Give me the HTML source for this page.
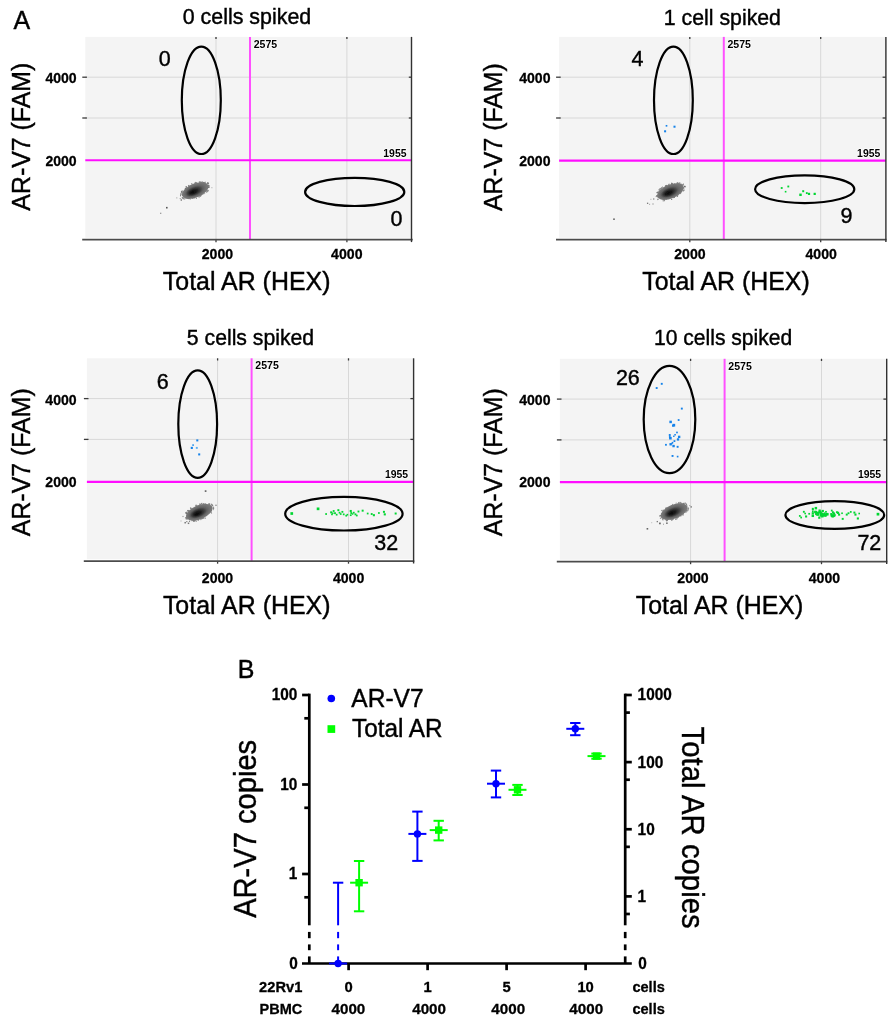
<!DOCTYPE html>
<html lang="en"><head><meta charset="utf-8"><title>ddPCR AR-V7 / Total AR figure</title>
<style>html,body{margin:0;padding:0;background:#fff}svg{display:block}</style></head><body>
<svg width="895" height="1024" viewBox="0 0 895 1024" font-family="'Liberation Sans', Arial, Helvetica, sans-serif" fill="#000">
<defs><radialGradient id="cg" cx="0.5" cy="0.5" r="0.5" fx="0.39" fy="0.55"><stop offset="0" stop-color="#090909"/><stop offset="0.25" stop-color="#1a1a1a"/><stop offset="0.48" stop-color="#3f3f3f"/><stop offset="0.66" stop-color="#626262"/><stop offset="0.82" stop-color="#707070"/><stop offset="1" stop-color="#7b7b7b"/></radialGradient></defs>
<rect width="895" height="1024" fill="#fff"/>
<filter id="soft" x="0" y="0" width="895" height="1024" filterUnits="userSpaceOnUse"><feGaussianBlur stdDeviation="0.4"/></filter>
<g filter="url(#soft)">
<rect width="895" height="1024" fill="#fff"/>
<text font-size="25" transform="translate(13.6 29) scale(1 1.03)" stroke="#000" stroke-width="0.4">A</text>
<text font-size="25" transform="translate(237.7 677.7) scale(1 1.03)" stroke="#000" stroke-width="0.4">B</text>
<rect x="85.3" y="36.9" width="326.2" height="200.9" fill="#f4f4f4"/>
<line x1="216" y1="36.9" x2="216" y2="239.7" stroke="#d8d8d8" stroke-width="1"/>
<line x1="346.9" y1="36.9" x2="346.9" y2="239.7" stroke="#d8d8d8" stroke-width="1"/>
<line x1="85.3" y1="77.2" x2="412" y2="77.2" stroke="#d8d8d8" stroke-width="1"/>
<line x1="85.3" y1="118" x2="412" y2="118" stroke="#d8d8d8" stroke-width="1"/>
<line x1="216" y1="36.9" x2="216" y2="39.1" stroke="#3a3a3a" stroke-width="1.3"/>
<line x1="216" y1="239.7" x2="216" y2="242.3" stroke="#3a3a3a" stroke-width="1.3"/>
<line x1="346.9" y1="36.9" x2="346.9" y2="39.1" stroke="#3a3a3a" stroke-width="1.3"/>
<line x1="346.9" y1="239.7" x2="346.9" y2="242.3" stroke="#3a3a3a" stroke-width="1.3"/>
<line x1="82.3" y1="77.2" x2="86.9" y2="77.2" stroke="#3a3a3a" stroke-width="1.3"/>
<line x1="408.8" y1="77.2" x2="412" y2="77.2" stroke="#3a3a3a" stroke-width="1.3"/>
<line x1="82.3" y1="118" x2="86.9" y2="118" stroke="#3a3a3a" stroke-width="1.3"/>
<line x1="408.8" y1="118" x2="412" y2="118" stroke="#3a3a3a" stroke-width="1.3"/>
<line x1="250" y1="36.9" x2="250" y2="239.7" stroke="#ff50ff" stroke-width="2"/>
<line x1="85.3" y1="160.25" x2="412" y2="160.25" stroke="#ff10ff" stroke-width="2.2"/>
<line x1="82.2" y1="239.7" x2="412.7" y2="239.7" stroke="#4c4c4c" stroke-width="1.7"/>
<line x1="411.5" y1="36.9" x2="411.5" y2="242.1" stroke="#303030" stroke-width="1.4"/>
<text font-size="10.5" font-weight="bold" textLength="23.5" lengthAdjust="spacingAndGlyphs" transform="translate(253.7 47.7) scale(1 1.03)" stroke="#fff" stroke-opacity=".8" stroke-width="1.6" paint-order="stroke" stroke-linejoin="round">2575</text>
<text font-size="10.5" font-weight="bold" text-anchor="end" textLength="23.2" lengthAdjust="spacingAndGlyphs" transform="translate(406.5 156.5) scale(1 1.03)" stroke="#fff" stroke-opacity=".8" stroke-width="1.6" paint-order="stroke" stroke-linejoin="round">1955</text>
<text font-size="21" text-anchor="middle" textLength="128.5" lengthAdjust="spacingAndGlyphs" transform="translate(247 23.8) scale(1 1.03)" stroke="#000" stroke-width="0.4">0 cells spiked</text>
<text font-size="24.7" text-anchor="middle" textLength="147.9" lengthAdjust="spacingAndGlyphs" transform="translate(30.3 136.7) rotate(-90) scale(1 1.03)" stroke="#000" stroke-width="0.4">AR-V7 (FAM)</text>
<text font-size="13.8" font-weight="bold" text-anchor="end" textLength="31.3" lengthAdjust="spacingAndGlyphs" transform="translate(76.7 82.7) scale(1 1.03)" stroke="#000" stroke-width="0.28">4000</text>
<text font-size="13.8" font-weight="bold" text-anchor="end" textLength="31.3" lengthAdjust="spacingAndGlyphs" transform="translate(76.7 165.5) scale(1 1.03)" stroke="#000" stroke-width="0.28">2000</text>
<text font-size="13.8" font-weight="bold" text-anchor="middle" textLength="31.4" lengthAdjust="spacingAndGlyphs" transform="translate(217.4 259) scale(1 1.03)" stroke="#000" stroke-width="0.28">2000</text>
<text font-size="13.8" font-weight="bold" text-anchor="middle" textLength="31.4" lengthAdjust="spacingAndGlyphs" transform="translate(346.8 259) scale(1 1.03)" stroke="#000" stroke-width="0.28">4000</text>
<text font-size="24.7" text-anchor="middle" textLength="167.6" lengthAdjust="spacingAndGlyphs" transform="translate(246.65 289.6) scale(1 1.03)" stroke="#000" stroke-width="0.4">Total AR (HEX)</text>
<ellipse cx="201.3" cy="100.3" rx="19.5" ry="53.7" fill="none" stroke="#000" stroke-width="2.2"/>
<ellipse cx="354.7" cy="191.9" rx="49.6" ry="14.1" fill="none" stroke="#000" stroke-width="2.2"/>
<text font-size="21.5" transform="translate(158.8 66.1) scale(1 1.03)" stroke="#000" stroke-width="0.4">0</text>
<text font-size="21.5" transform="translate(390.6 225.8) scale(1 1.03)" stroke="#000" stroke-width="0.4">0</text>
<g transform="translate(195.2 190.6) rotate(-22)">
<rect x="9.55" y="5.13" width="1.1" height="1.1" fill="#7a7a7a"/>
<rect x="10.38" y="4.39" width="1.3" height="1.3" fill="#909090"/>
<rect x="-10.08" y="4.1" width="0.9" height="0.9" fill="#909090"/>
<rect x="10.16" y="-4.94" width="1.3" height="1.3" fill="#7a7a7a"/>
<rect x="-14.61" y="1.84" width="1.3" height="1.3" fill="#858585"/>
<rect x="14.03" y="-3.04" width="0.9" height="0.9" fill="#7a7a7a"/>
<rect x="13.44" y="0.49" width="1.3" height="1.3" fill="#909090"/>
<rect x="2.25" y="6.15" width="1.3" height="1.3" fill="#7a7a7a"/>
<rect x="1.82" y="6.21" width="1.3" height="1.3" fill="#909090"/>
<rect x="0.86" y="6.07" width="1.1" height="1.1" fill="#858585"/>
<rect x="14.11" y="-2.93" width="1.3" height="1.3" fill="#909090"/>
<rect x="10.95" y="-3.48" width="0.9" height="0.9" fill="#6f6f6f"/>
<rect x="-1.31" y="-8.32" width="1.3" height="1.3" fill="#909090"/>
<rect x="6.52" y="-6.97" width="1.1" height="1.1" fill="#6f6f6f"/>
<rect x="-13.71" y="-4.66" width="1.3" height="1.3" fill="#909090"/>
<rect x="7.96" y="-6.16" width="1.1" height="1.1" fill="#909090"/>
<rect x="-7.46" y="-6.35" width="0.9" height="0.9" fill="#6f6f6f"/>
<rect x="-13.79" y="2" width="1.3" height="1.3" fill="#858585"/>
<rect x="6.81" y="-6.35" width="1.1" height="1.1" fill="#7a7a7a"/>
<rect x="13.57" y="1.34" width="1.3" height="1.3" fill="#909090"/>
<rect x="6.34" y="5.76" width="0.9" height="0.9" fill="#7a7a7a"/>
<rect x="-15.33" y="-2.43" width="1.1" height="1.1" fill="#858585"/>
<rect x="-16.03" y="-1.22" width="1.1" height="1.1" fill="#6f6f6f"/>
<rect x="11.79" y="-4.48" width="1.1" height="1.1" fill="#7a7a7a"/>
<rect x="2.53" y="-8.05" width="1.3" height="1.3" fill="#858585"/>
<rect x="1.72" y="-7.07" width="1.1" height="1.1" fill="#7a7a7a"/>
<rect x="9.18" y="-5.88" width="1.3" height="1.3" fill="#858585"/>
<rect x="-13.47" y="3.36" width="1.1" height="1.1" fill="#909090"/>
<rect x="13.71" y="-0.48" width="1.1" height="1.1" fill="#6f6f6f"/>
<rect x="-12.86" y="-5.08" width="1.3" height="1.3" fill="#858585"/>
<rect x="-13.6" y="-4.31" width="0.9" height="0.9" fill="#6f6f6f"/>
<rect x="7.55" y="-6.6" width="0.9" height="0.9" fill="#7a7a7a"/>
<rect x="-14.73" y="1.72" width="0.9" height="0.9" fill="#6f6f6f"/>
<rect x="-2.31" y="6.93" width="1.1" height="1.1" fill="#858585"/>
<rect x="-3.93" y="5.7" width="1.3" height="1.3" fill="#6f6f6f"/>
<rect x="13.41" y="-2.72" width="1.1" height="1.1" fill="#6f6f6f"/>
<rect x="-4.59" y="-7.2" width="0.9" height="0.9" fill="#7a7a7a"/>
<rect x="-5.74" y="5.77" width="1.1" height="1.1" fill="#858585"/>
<rect x="11.27" y="4.2" width="1.3" height="1.3" fill="#858585"/>
<rect x="-14.64" y="2.8" width="0.9" height="0.9" fill="#858585"/>
<rect x="-10.7" y="3.27" width="1.1" height="1.1" fill="#858585"/>
<rect x="-4.78" y="-7.7" width="1.3" height="1.3" fill="#858585"/>
<rect x="3.55" y="-7.43" width="1.3" height="1.3" fill="#858585"/>
<rect x="-8.88" y="-6.2" width="1.3" height="1.3" fill="#6f6f6f"/>
<rect x="-9.14" y="-5.13" width="0.9" height="0.9" fill="#6f6f6f"/>
<rect x="14.54" y="-1.98" width="0.9" height="0.9" fill="#6f6f6f"/>
<rect x="7.89" y="-5.91" width="1.3" height="1.3" fill="#6f6f6f"/>
<rect x="7.37" y="5.56" width="0.9" height="0.9" fill="#858585"/>
<rect x="-14.78" y="-3.48" width="1.3" height="1.3" fill="#858585"/>
<rect x="-15.24" y="1.29" width="1.1" height="1.1" fill="#7a7a7a"/>
<rect x="3.31" y="5.49" width="1.3" height="1.3" fill="#909090"/>
<rect x="3.89" y="5.52" width="1.1" height="1.1" fill="#909090"/>
<rect x="-13.2" y="-0.71" width="1.1" height="1.1" fill="#909090"/>
<rect x="12.48" y="0.1" width="1.3" height="1.3" fill="#6f6f6f"/>
<rect x="2.23" y="-7.23" width="1.1" height="1.1" fill="#858585"/>
<rect x="-7.59" y="-7.4" width="1.3" height="1.3" fill="#6f6f6f"/>
<rect x="-15.07" y="-2.05" width="0.9" height="0.9" fill="#858585"/>
<rect x="-2.42" y="-6.8" width="0.9" height="0.9" fill="#858585"/>
<rect x="10.59" y="-4.17" width="1.3" height="1.3" fill="#6f6f6f"/>
<rect x="-13.93" y="-0.8" width="1.1" height="1.1" fill="#6f6f6f"/>
<rect x="9.6" y="3.92" width="0.9" height="0.9" fill="#909090"/>
<rect x="-13.57" y="-4.05" width="0.9" height="0.9" fill="#6f6f6f"/>
<rect x="-11.92" y="3.36" width="0.9" height="0.9" fill="#858585"/>
<rect x="-8.29" y="5.65" width="0.9" height="0.9" fill="#909090"/>
<rect x="-12.55" y="-3.41" width="1.1" height="1.1" fill="#7a7a7a"/>
<rect x="-9.48" y="4.52" width="1.1" height="1.1" fill="#7a7a7a"/>
<rect x="9.76" y="-4.46" width="1.1" height="1.1" fill="#7a7a7a"/>
<rect x="14.07" y="0.02" width="1.1" height="1.1" fill="#7a7a7a"/>
<rect x="11.04" y="4.62" width="0.9" height="0.9" fill="#7a7a7a"/>
<rect x="0.57" y="7.36" width="0.9" height="0.9" fill="#909090"/>
<ellipse cx="0" cy="0" rx="14" ry="7" fill="url(#cg)"/>
</g>
<rect x="166" y="206.9" width="1.6" height="1.6" fill="#555"/>
<rect x="160.1" y="212.7" width="1.2" height="1.2" fill="#8a8a8a"/>
<rect x="180.6" y="199.3" width="1.4" height="1.4" fill="#777"/>
<rect x="179.7" y="198.1" width="1" height="1" fill="#8a8a8a"/>
<rect x="176.3" y="197.4" width="1" height="1" fill="#9a9a9a"/>
<rect x="207.9" y="186.8" width="1.2" height="1.2" fill="#777"/>
<rect x="211.4" y="187.2" width="1" height="1" fill="#aaa"/>
<rect x="559.1" y="36.9" width="326.8" height="200.9" fill="#f4f4f4"/>
<line x1="689.8" y1="36.9" x2="689.8" y2="239.7" stroke="#d8d8d8" stroke-width="1"/>
<line x1="820.7" y1="36.9" x2="820.7" y2="239.7" stroke="#d8d8d8" stroke-width="1"/>
<line x1="559.1" y1="77.2" x2="885.8" y2="77.2" stroke="#d8d8d8" stroke-width="1"/>
<line x1="559.1" y1="118" x2="885.8" y2="118" stroke="#d8d8d8" stroke-width="1"/>
<line x1="689.8" y1="36.9" x2="689.8" y2="39.1" stroke="#3a3a3a" stroke-width="1.3"/>
<line x1="689.8" y1="239.7" x2="689.8" y2="242.3" stroke="#3a3a3a" stroke-width="1.3"/>
<line x1="820.7" y1="36.9" x2="820.7" y2="39.1" stroke="#3a3a3a" stroke-width="1.3"/>
<line x1="820.7" y1="239.7" x2="820.7" y2="242.3" stroke="#3a3a3a" stroke-width="1.3"/>
<line x1="556.1" y1="77.2" x2="560.7" y2="77.2" stroke="#3a3a3a" stroke-width="1.3"/>
<line x1="882.6" y1="77.2" x2="885.8" y2="77.2" stroke="#3a3a3a" stroke-width="1.3"/>
<line x1="556.1" y1="118" x2="560.7" y2="118" stroke="#3a3a3a" stroke-width="1.3"/>
<line x1="882.6" y1="118" x2="885.8" y2="118" stroke="#3a3a3a" stroke-width="1.3"/>
<line x1="723.8" y1="36.9" x2="723.8" y2="239.7" stroke="#ff50ff" stroke-width="2"/>
<line x1="559.1" y1="160.6" x2="885.8" y2="160.6" stroke="#ff10ff" stroke-width="2.2"/>
<line x1="556" y1="239.7" x2="886.5" y2="239.7" stroke="#4c4c4c" stroke-width="1.7"/>
<line x1="885.9" y1="36.9" x2="885.9" y2="242.1" stroke="#303030" stroke-width="1.4"/>
<text font-size="10.5" font-weight="bold" textLength="23.5" lengthAdjust="spacingAndGlyphs" transform="translate(727.5 47.7) scale(1 1.03)" stroke="#fff" stroke-opacity=".8" stroke-width="1.6" paint-order="stroke" stroke-linejoin="round">2575</text>
<text font-size="10.5" font-weight="bold" text-anchor="end" textLength="23.2" lengthAdjust="spacingAndGlyphs" transform="translate(880.3 156.5) scale(1 1.03)" stroke="#fff" stroke-opacity=".8" stroke-width="1.6" paint-order="stroke" stroke-linejoin="round">1955</text>
<text font-size="21" text-anchor="middle" textLength="117.1" lengthAdjust="spacingAndGlyphs" transform="translate(722.4 25.4) scale(1 1.03)" stroke="#000" stroke-width="0.4">1 cell spiked</text>
<text font-size="24.7" text-anchor="middle" textLength="147.9" lengthAdjust="spacingAndGlyphs" transform="translate(501.6 137.1) rotate(-90) scale(1 1.03)" stroke="#000" stroke-width="0.4">AR-V7 (FAM)</text>
<text font-size="13.8" font-weight="bold" text-anchor="end" textLength="31.3" lengthAdjust="spacingAndGlyphs" transform="translate(550.5 83.1) scale(1 1.03)" stroke="#000" stroke-width="0.28">4000</text>
<text font-size="13.8" font-weight="bold" text-anchor="end" textLength="31.3" lengthAdjust="spacingAndGlyphs" transform="translate(550.5 165.7) scale(1 1.03)" stroke="#000" stroke-width="0.28">2000</text>
<text font-size="13.8" font-weight="bold" text-anchor="middle" textLength="31.4" lengthAdjust="spacingAndGlyphs" transform="translate(689.9 258.9) scale(1 1.03)" stroke="#000" stroke-width="0.28">2000</text>
<text font-size="13.8" font-weight="bold" text-anchor="middle" textLength="31.4" lengthAdjust="spacingAndGlyphs" transform="translate(821.2 258.9) scale(1 1.03)" stroke="#000" stroke-width="0.28">4000</text>
<text font-size="24.7" text-anchor="middle" textLength="167.6" lengthAdjust="spacingAndGlyphs" transform="translate(726 290) scale(1 1.03)" stroke="#000" stroke-width="0.4">Total AR (HEX)</text>
<ellipse cx="673.4" cy="100.3" rx="19.4" ry="53.7" fill="none" stroke="#000" stroke-width="2.2"/>
<ellipse cx="804.7" cy="189.2" rx="49.6" ry="13.9" fill="none" stroke="#000" stroke-width="2.2"/>
<text font-size="21.5" transform="translate(631.6 66.1) scale(1 1.03)" stroke="#000" stroke-width="0.4">4</text>
<text font-size="21.5" transform="translate(840.4 223.2) scale(1 1.03)" stroke="#000" stroke-width="0.4">9</text>
<g transform="translate(670.4 191.6) rotate(-22)">
<rect x="14.48" y="-2.57" width="0.9" height="0.9" fill="#7a7a7a"/>
<rect x="12.52" y="3.31" width="1.1" height="1.1" fill="#6f6f6f"/>
<rect x="-11.93" y="-5.02" width="1.1" height="1.1" fill="#858585"/>
<rect x="-10.37" y="-6.41" width="1.3" height="1.3" fill="#6f6f6f"/>
<rect x="12.56" y="-3.23" width="0.9" height="0.9" fill="#7a7a7a"/>
<rect x="-10.71" y="5.28" width="1.1" height="1.1" fill="#909090"/>
<rect x="10.61" y="-4.92" width="0.9" height="0.9" fill="#858585"/>
<rect x="1.15" y="6.07" width="0.9" height="0.9" fill="#858585"/>
<rect x="-14.23" y="-0.99" width="1.1" height="1.1" fill="#858585"/>
<rect x="3.65" y="-7.76" width="1.3" height="1.3" fill="#6f6f6f"/>
<rect x="-9.93" y="5.76" width="0.9" height="0.9" fill="#909090"/>
<rect x="12.63" y="-2.58" width="1.3" height="1.3" fill="#909090"/>
<rect x="-14.5" y="-1.99" width="1.3" height="1.3" fill="#909090"/>
<rect x="-15.53" y="-1.28" width="1.1" height="1.1" fill="#909090"/>
<rect x="-9.33" y="5.43" width="1.1" height="1.1" fill="#909090"/>
<rect x="-9.05" y="-7.16" width="1.3" height="1.3" fill="#858585"/>
<rect x="-2.3" y="7.1" width="1.1" height="1.1" fill="#6f6f6f"/>
<rect x="13.7" y="-2.51" width="1.1" height="1.1" fill="#909090"/>
<rect x="-2.34" y="-7.65" width="1.3" height="1.3" fill="#6f6f6f"/>
<rect x="-9.82" y="-5.14" width="1.3" height="1.3" fill="#6f6f6f"/>
<rect x="14.64" y="-0.05" width="0.9" height="0.9" fill="#7a7a7a"/>
<rect x="-12.03" y="-3.52" width="1.3" height="1.3" fill="#858585"/>
<rect x="8.62" y="-5.11" width="1.1" height="1.1" fill="#858585"/>
<rect x="-0.12" y="6.07" width="1.1" height="1.1" fill="#7a7a7a"/>
<rect x="11.42" y="-5.02" width="1.1" height="1.1" fill="#7a7a7a"/>
<rect x="-8.99" y="4.69" width="0.9" height="0.9" fill="#7a7a7a"/>
<rect x="8.95" y="3.59" width="1.3" height="1.3" fill="#7a7a7a"/>
<rect x="11.54" y="-3.81" width="0.9" height="0.9" fill="#858585"/>
<rect x="-1.91" y="-7.62" width="1.1" height="1.1" fill="#7a7a7a"/>
<rect x="-13.18" y="-4.46" width="0.9" height="0.9" fill="#858585"/>
<rect x="11.85" y="-1.7" width="1.1" height="1.1" fill="#7a7a7a"/>
<rect x="-7.26" y="4.77" width="1.3" height="1.3" fill="#909090"/>
<rect x="0.94" y="-7.95" width="1.1" height="1.1" fill="#6f6f6f"/>
<rect x="9.14" y="-6.07" width="0.9" height="0.9" fill="#909090"/>
<rect x="11.8" y="3.63" width="0.9" height="0.9" fill="#7a7a7a"/>
<rect x="-15.13" y="1.81" width="1.3" height="1.3" fill="#858585"/>
<rect x="-12.34" y="-3.96" width="0.9" height="0.9" fill="#6f6f6f"/>
<rect x="8.97" y="-5.49" width="1.3" height="1.3" fill="#6f6f6f"/>
<rect x="13.72" y="-1.99" width="1.3" height="1.3" fill="#858585"/>
<rect x="11.45" y="1.77" width="0.9" height="0.9" fill="#858585"/>
<rect x="11.54" y="3.67" width="0.9" height="0.9" fill="#7a7a7a"/>
<rect x="1.09" y="6.49" width="0.9" height="0.9" fill="#6f6f6f"/>
<rect x="-12.75" y="-4.49" width="1.1" height="1.1" fill="#6f6f6f"/>
<rect x="-5.83" y="-6.62" width="0.9" height="0.9" fill="#7a7a7a"/>
<rect x="12.87" y="0.88" width="1.3" height="1.3" fill="#7a7a7a"/>
<rect x="-2.64" y="-7.03" width="0.9" height="0.9" fill="#7a7a7a"/>
<rect x="5.08" y="5.6" width="0.9" height="0.9" fill="#858585"/>
<rect x="-14.56" y="-1.56" width="1.3" height="1.3" fill="#6f6f6f"/>
<rect x="-8.99" y="-5.8" width="1.3" height="1.3" fill="#858585"/>
<rect x="4.15" y="-7.18" width="1.3" height="1.3" fill="#7a7a7a"/>
<rect x="-13.31" y="-4.61" width="0.9" height="0.9" fill="#858585"/>
<rect x="-7.95" y="-6.67" width="1.3" height="1.3" fill="#7a7a7a"/>
<rect x="12.02" y="-2.14" width="1.1" height="1.1" fill="#6f6f6f"/>
<rect x="-6.11" y="-7.65" width="0.9" height="0.9" fill="#6f6f6f"/>
<rect x="9.22" y="-5.47" width="1.1" height="1.1" fill="#7a7a7a"/>
<rect x="4.23" y="6.55" width="1.1" height="1.1" fill="#7a7a7a"/>
<rect x="13.09" y="2.23" width="0.9" height="0.9" fill="#909090"/>
<rect x="10.59" y="-5.18" width="1.1" height="1.1" fill="#7a7a7a"/>
<rect x="12.94" y="0.57" width="0.9" height="0.9" fill="#7a7a7a"/>
<rect x="-0.14" y="-7.14" width="1.1" height="1.1" fill="#6f6f6f"/>
<rect x="-3.32" y="-6.92" width="1.1" height="1.1" fill="#6f6f6f"/>
<rect x="9.74" y="-4.79" width="0.9" height="0.9" fill="#7a7a7a"/>
<rect x="-10.59" y="-5.01" width="0.9" height="0.9" fill="#909090"/>
<rect x="-4.92" y="-6.38" width="0.9" height="0.9" fill="#909090"/>
<rect x="-2.89" y="-7.52" width="1.1" height="1.1" fill="#6f6f6f"/>
<rect x="8.02" y="4.69" width="1.3" height="1.3" fill="#909090"/>
<rect x="9.3" y="-6.08" width="1.1" height="1.1" fill="#909090"/>
<rect x="6.5" y="-6.24" width="0.9" height="0.9" fill="#858585"/>
<rect x="-14.02" y="-0.18" width="1.3" height="1.3" fill="#909090"/>
<rect x="-7.09" y="-7.41" width="0.9" height="0.9" fill="#7a7a7a"/>
<ellipse cx="0" cy="0" rx="14" ry="7" fill="url(#cg)"/>
</g>
<rect x="613.2" y="218.4" width="1.6" height="1.6" fill="#666"/>
<rect x="646.95" y="202.65" width="1.3" height="1.3" fill="#777"/>
<rect x="649.1" y="203.8" width="1" height="1" fill="#999"/>
<rect x="653.05" y="198.35" width="1.3" height="1.3" fill="#888"/>
<rect x="652.45" y="203.45" width="1.1" height="1.1" fill="#888"/>
<rect x="650.4" y="198.8" width="1" height="1" fill="#aaa"/>
<rect x="684.15" y="185.85" width="1.5" height="1.5" fill="#666"/>
<rect x="665.67" y="124.97" width="1.66" height="1.66" fill="#1382ea"/>
<rect x="673.49" y="125.69" width="2.02" height="2.02" fill="#1382ea"/>
<rect x="664.09" y="130.29" width="2.02" height="2.02" fill="#1382ea"/>
<rect x="780.77" y="187.07" width="1.86" height="1.86" fill="#04d632"/>
<rect x="787.37" y="185.57" width="1.86" height="1.86" fill="#04d632"/>
<rect x="784.79" y="190.89" width="1.62" height="1.62" fill="#04d632"/>
<rect x="799.27" y="193.57" width="2.46" height="2.46" fill="#04d632"/>
<rect x="802.21" y="190.21" width="1.98" height="1.98" fill="#04d632"/>
<rect x="805.87" y="192.17" width="1.86" height="1.86" fill="#04d632"/>
<rect x="807.89" y="192.79" width="2.22" height="2.22" fill="#04d632"/>
<rect x="813.59" y="192.79" width="2.22" height="2.22" fill="#04d632"/>
<rect x="86.9" y="358.3" width="326.7" height="200.9" fill="#f4f4f4"/>
<line x1="217.6" y1="358.3" x2="217.6" y2="561.1" stroke="#d8d8d8" stroke-width="1"/>
<line x1="348.5" y1="358.3" x2="348.5" y2="561.1" stroke="#d8d8d8" stroke-width="1"/>
<line x1="86.9" y1="398.6" x2="413.6" y2="398.6" stroke="#d8d8d8" stroke-width="1"/>
<line x1="86.9" y1="439.4" x2="413.6" y2="439.4" stroke="#d8d8d8" stroke-width="1"/>
<line x1="217.6" y1="358.3" x2="217.6" y2="360.5" stroke="#3a3a3a" stroke-width="1.3"/>
<line x1="217.6" y1="561.1" x2="217.6" y2="563.7" stroke="#3a3a3a" stroke-width="1.3"/>
<line x1="348.5" y1="358.3" x2="348.5" y2="360.5" stroke="#3a3a3a" stroke-width="1.3"/>
<line x1="348.5" y1="561.1" x2="348.5" y2="563.7" stroke="#3a3a3a" stroke-width="1.3"/>
<line x1="83.9" y1="398.6" x2="88.5" y2="398.6" stroke="#3a3a3a" stroke-width="1.3"/>
<line x1="410.4" y1="398.6" x2="413.6" y2="398.6" stroke="#3a3a3a" stroke-width="1.3"/>
<line x1="83.9" y1="439.4" x2="88.5" y2="439.4" stroke="#3a3a3a" stroke-width="1.3"/>
<line x1="410.4" y1="439.4" x2="413.6" y2="439.4" stroke="#3a3a3a" stroke-width="1.3"/>
<line x1="251.6" y1="358.3" x2="251.6" y2="561.1" stroke="#ff50ff" stroke-width="2"/>
<line x1="86.9" y1="481.85" x2="413.6" y2="481.85" stroke="#ff10ff" stroke-width="2.2"/>
<line x1="83.8" y1="561.1" x2="414.3" y2="561.1" stroke="#4c4c4c" stroke-width="1.7"/>
<line x1="413.6" y1="358.3" x2="413.6" y2="563.5" stroke="#303030" stroke-width="1.4"/>
<text font-size="10.5" font-weight="bold" textLength="23.5" lengthAdjust="spacingAndGlyphs" transform="translate(255.3 369.1) scale(1 1.03)" stroke="#fff" stroke-opacity=".8" stroke-width="1.6" paint-order="stroke" stroke-linejoin="round">2575</text>
<text font-size="10.5" font-weight="bold" text-anchor="end" textLength="23.2" lengthAdjust="spacingAndGlyphs" transform="translate(408.1 477.9) scale(1 1.03)" stroke="#fff" stroke-opacity=".8" stroke-width="1.6" paint-order="stroke" stroke-linejoin="round">1955</text>
<text font-size="21" text-anchor="middle" textLength="127.3" lengthAdjust="spacingAndGlyphs" transform="translate(250.5 345.3) scale(1 1.03)" stroke="#000" stroke-width="0.4">5 cells spiked</text>
<text font-size="24.7" text-anchor="middle" textLength="147.9" lengthAdjust="spacingAndGlyphs" transform="translate(30.3 462.25) rotate(-90) scale(1 1.03)" stroke="#000" stroke-width="0.4">AR-V7 (FAM)</text>
<text font-size="13.8" font-weight="bold" text-anchor="end" textLength="31.3" lengthAdjust="spacingAndGlyphs" transform="translate(76.6 404.6) scale(1 1.03)" stroke="#000" stroke-width="0.28">4000</text>
<text font-size="13.8" font-weight="bold" text-anchor="end" textLength="31.3" lengthAdjust="spacingAndGlyphs" transform="translate(76.6 487.1) scale(1 1.03)" stroke="#000" stroke-width="0.28">2000</text>
<text font-size="13.8" font-weight="bold" text-anchor="middle" textLength="31.4" lengthAdjust="spacingAndGlyphs" transform="translate(217.5 582.7) scale(1 1.03)" stroke="#000" stroke-width="0.28">2000</text>
<text font-size="13.8" font-weight="bold" text-anchor="middle" textLength="31.4" lengthAdjust="spacingAndGlyphs" transform="translate(348.6 582.7) scale(1 1.03)" stroke="#000" stroke-width="0.28">4000</text>
<text font-size="24.7" text-anchor="middle" textLength="167.6" lengthAdjust="spacingAndGlyphs" transform="translate(246.7 613.7) scale(1 1.03)" stroke="#000" stroke-width="0.4">Total AR (HEX)</text>
<ellipse cx="197.7" cy="424.1" rx="19.4" ry="53.8" fill="none" stroke="#000" stroke-width="2.2"/>
<ellipse cx="343.9" cy="513.7" rx="58.7" ry="16.8" fill="none" stroke="#000" stroke-width="2.2"/>
<text font-size="21.5" transform="translate(156.7 389.2) scale(1 1.03)" stroke="#000" stroke-width="0.4">6</text>
<text font-size="21.5" transform="translate(374.3 550.4) scale(1 1.03)" stroke="#000" stroke-width="0.4">32</text>
<g transform="translate(199.3 512.2) rotate(-22)">
<rect x="0.43" y="6.47" width="1.3" height="1.3" fill="#6f6f6f"/>
<rect x="-14.75" y="0.62" width="1.1" height="1.1" fill="#7a7a7a"/>
<rect x="-1.43" y="6" width="1.3" height="1.3" fill="#909090"/>
<rect x="6.82" y="-6.47" width="0.9" height="0.9" fill="#858585"/>
<rect x="-10.76" y="-6.37" width="1.3" height="1.3" fill="#909090"/>
<rect x="14.28" y="0.06" width="1.3" height="1.3" fill="#858585"/>
<rect x="13.91" y="1.44" width="1.1" height="1.1" fill="#6f6f6f"/>
<rect x="-13.43" y="-4.98" width="1.3" height="1.3" fill="#909090"/>
<rect x="2.85" y="-7.21" width="0.9" height="0.9" fill="#909090"/>
<rect x="8.79" y="-5" width="1.1" height="1.1" fill="#858585"/>
<rect x="2.56" y="6.97" width="1.3" height="1.3" fill="#909090"/>
<rect x="7.88" y="-6.13" width="1.3" height="1.3" fill="#909090"/>
<rect x="-9.08" y="5.25" width="1.1" height="1.1" fill="#858585"/>
<rect x="-7.06" y="-7.69" width="1.3" height="1.3" fill="#6f6f6f"/>
<rect x="-6.87" y="-6.42" width="1.3" height="1.3" fill="#6f6f6f"/>
<rect x="11.21" y="-4.7" width="1.3" height="1.3" fill="#858585"/>
<rect x="6.6" y="-6.71" width="0.9" height="0.9" fill="#6f6f6f"/>
<rect x="13.59" y="2.51" width="0.9" height="0.9" fill="#909090"/>
<rect x="-7.59" y="4.87" width="0.9" height="0.9" fill="#858585"/>
<rect x="-4.53" y="6.75" width="0.9" height="0.9" fill="#7a7a7a"/>
<rect x="-12.46" y="-5.23" width="1.3" height="1.3" fill="#909090"/>
<rect x="-12.89" y="-4.34" width="1.3" height="1.3" fill="#6f6f6f"/>
<rect x="0.67" y="5.88" width="0.9" height="0.9" fill="#7a7a7a"/>
<rect x="10.54" y="3.93" width="1.1" height="1.1" fill="#858585"/>
<rect x="-4.02" y="5.93" width="1.1" height="1.1" fill="#7a7a7a"/>
<rect x="-6.62" y="6.61" width="1.1" height="1.1" fill="#909090"/>
<rect x="-14.41" y="1.1" width="1.3" height="1.3" fill="#7a7a7a"/>
<rect x="14.33" y="-1.83" width="1.1" height="1.1" fill="#6f6f6f"/>
<rect x="-10.39" y="-6.08" width="1.1" height="1.1" fill="#6f6f6f"/>
<rect x="13.62" y="-1.44" width="0.9" height="0.9" fill="#6f6f6f"/>
<rect x="3.29" y="-8.04" width="0.9" height="0.9" fill="#6f6f6f"/>
<rect x="-10.74" y="4.6" width="0.9" height="0.9" fill="#858585"/>
<rect x="-9.75" y="-5.72" width="1.3" height="1.3" fill="#6f6f6f"/>
<rect x="11.92" y="-4.24" width="1.3" height="1.3" fill="#6f6f6f"/>
<rect x="-14.93" y="-0.07" width="1.1" height="1.1" fill="#7a7a7a"/>
<rect x="-0.55" y="6.55" width="0.9" height="0.9" fill="#6f6f6f"/>
<rect x="-9.55" y="4.47" width="1.3" height="1.3" fill="#6f6f6f"/>
<rect x="-1.78" y="7.03" width="0.9" height="0.9" fill="#7a7a7a"/>
<rect x="13.92" y="-1.87" width="1.1" height="1.1" fill="#858585"/>
<rect x="-15.06" y="-0.45" width="0.9" height="0.9" fill="#6f6f6f"/>
<rect x="-7.35" y="6.03" width="0.9" height="0.9" fill="#7a7a7a"/>
<rect x="-13.07" y="-5.14" width="1.1" height="1.1" fill="#858585"/>
<rect x="5.16" y="-7.79" width="1.1" height="1.1" fill="#7a7a7a"/>
<rect x="-1.21" y="-7.18" width="1.1" height="1.1" fill="#909090"/>
<rect x="1.48" y="5.86" width="1.1" height="1.1" fill="#858585"/>
<rect x="4.75" y="-7.66" width="1.1" height="1.1" fill="#858585"/>
<rect x="-8.78" y="5.74" width="1.3" height="1.3" fill="#7a7a7a"/>
<rect x="-7.98" y="4.72" width="1.3" height="1.3" fill="#6f6f6f"/>
<rect x="3.01" y="-7.11" width="1.3" height="1.3" fill="#6f6f6f"/>
<rect x="-12.49" y="3.01" width="0.9" height="0.9" fill="#909090"/>
<rect x="10.94" y="-3.68" width="1.1" height="1.1" fill="#7a7a7a"/>
<rect x="13.7" y="-3.32" width="1.3" height="1.3" fill="#909090"/>
<rect x="14.25" y="-2.83" width="0.9" height="0.9" fill="#858585"/>
<rect x="-1.08" y="-8.24" width="1.3" height="1.3" fill="#6f6f6f"/>
<rect x="-7.85" y="4.94" width="1.3" height="1.3" fill="#7a7a7a"/>
<rect x="12.3" y="-1.63" width="0.9" height="0.9" fill="#858585"/>
<rect x="14.16" y="1.1" width="1.1" height="1.1" fill="#858585"/>
<rect x="-11.64" y="-3.39" width="0.9" height="0.9" fill="#7a7a7a"/>
<rect x="-13.98" y="-0.78" width="1.3" height="1.3" fill="#7a7a7a"/>
<rect x="-12.97" y="-2.02" width="1.1" height="1.1" fill="#7a7a7a"/>
<rect x="10.55" y="5.08" width="0.9" height="0.9" fill="#909090"/>
<rect x="-8.34" y="4.85" width="0.9" height="0.9" fill="#7a7a7a"/>
<rect x="0.44" y="6.26" width="0.9" height="0.9" fill="#858585"/>
<rect x="-14.76" y="0.11" width="0.9" height="0.9" fill="#909090"/>
<rect x="0.09" y="-7.13" width="0.9" height="0.9" fill="#909090"/>
<rect x="-15.22" y="0.82" width="0.9" height="0.9" fill="#7a7a7a"/>
<rect x="1.56" y="-6.74" width="0.9" height="0.9" fill="#7a7a7a"/>
<rect x="-13.28" y="0.03" width="1.3" height="1.3" fill="#7a7a7a"/>
<rect x="-14.02" y="-0.54" width="0.9" height="0.9" fill="#6f6f6f"/>
<rect x="-9.22" y="5.32" width="1.1" height="1.1" fill="#6f6f6f"/>
<ellipse cx="0" cy="0" rx="14" ry="7" fill="url(#cg)"/>
</g>
<rect x="204.75" y="490.25" width="1.7" height="1.7" fill="#666"/>
<rect x="215.35" y="504.65" width="1.3" height="1.3" fill="#888"/>
<rect x="184.45" y="521.95" width="1.5" height="1.5" fill="#777"/>
<rect x="187.75" y="522.55" width="1.5" height="1.5" fill="#777"/>
<rect x="186.2" y="521" width="1.2" height="1.2" fill="#888"/>
<rect x="180.5" y="520.5" width="1" height="1" fill="#aaa"/>
<rect x="182.45" y="515.95" width="1.1" height="1.1" fill="#999"/>
<rect x="188.95" y="520.95" width="1.1" height="1.1" fill="#888"/>
<rect x="196.29" y="439.39" width="2.02" height="2.02" fill="#1382ea"/>
<rect x="192.21" y="444.21" width="1.78" height="1.78" fill="#4aa6f0"/>
<rect x="190.73" y="446.83" width="2.14" height="2.14" fill="#1382ea"/>
<rect x="195.85" y="446.95" width="1.9" height="1.9" fill="#5cb0f2"/>
<rect x="198.19" y="453.39" width="2.02" height="2.02" fill="#1382ea"/>
<rect x="290.41" y="512.17" width="2.7" height="2.7" fill="#04d632"/>
<rect x="316.72" y="507.48" width="2.7" height="2.7" fill="#04d632"/>
<rect x="394.67" y="512.53" width="1.98" height="1.98" fill="#04d632"/>
<rect x="325.24" y="513.15" width="1.74" height="1.74" fill="#04d632"/>
<rect x="330.15" y="511.35" width="1.98" height="1.98" fill="#04d632"/>
<rect x="331.11" y="513.49" width="1.74" height="1.74" fill="#04d632"/>
<rect x="332.73" y="510.07" width="1.86" height="1.86" fill="#04d632"/>
<rect x="334.07" y="512.25" width="1.86" height="1.86" fill="#04d632"/>
<rect x="335.8" y="513.82" width="1.74" height="1.74" fill="#04d632"/>
<rect x="337.36" y="509.18" width="1.98" height="1.98" fill="#04d632"/>
<rect x="338.65" y="511.81" width="1.74" height="1.74" fill="#04d632"/>
<rect x="339.82" y="513.15" width="1.74" height="1.74" fill="#04d632"/>
<rect x="341.44" y="510.91" width="1.86" height="1.86" fill="#04d632"/>
<rect x="342.84" y="513.49" width="1.74" height="1.74" fill="#04d632"/>
<rect x="345.36" y="514.83" width="1.74" height="1.74" fill="#04d632"/>
<rect x="346.59" y="513.88" width="1.62" height="1.62" fill="#04d632"/>
<rect x="349.7" y="509.95" width="2.1" height="2.1" fill="#04d632"/>
<rect x="350.32" y="512.08" width="1.86" height="1.86" fill="#04d632"/>
<rect x="349.88" y="514.32" width="1.74" height="1.74" fill="#04d632"/>
<rect x="352.9" y="511.81" width="1.74" height="1.74" fill="#04d632"/>
<rect x="354.51" y="513.43" width="1.86" height="1.86" fill="#04d632"/>
<rect x="355.91" y="514.66" width="1.74" height="1.74" fill="#04d632"/>
<rect x="357.53" y="510.58" width="1.86" height="1.86" fill="#04d632"/>
<rect x="361.66" y="509.68" width="1.98" height="1.98" fill="#04d632"/>
<rect x="366.81" y="512.65" width="1.74" height="1.74" fill="#04d632"/>
<rect x="370.77" y="513.09" width="1.86" height="1.86" fill="#04d632"/>
<rect x="372.83" y="514.14" width="2.1" height="2.1" fill="#04d632"/>
<rect x="378.03" y="512.14" width="1.74" height="1.74" fill="#04d632"/>
<rect x="382.94" y="510.85" width="1.98" height="1.98" fill="#04d632"/>
<rect x="383.72" y="513.31" width="2.1" height="2.1" fill="#04d632"/>
<rect x="332.07" y="512.43" width="1.5" height="1.5" fill="#04d632"/>
<rect x="351.84" y="513.27" width="1.5" height="1.5" fill="#04d632"/>
<rect x="559.9" y="358.8" width="326.8" height="200.9" fill="#f4f4f4"/>
<line x1="690.6" y1="358.8" x2="690.6" y2="561.6" stroke="#d8d8d8" stroke-width="1"/>
<line x1="821.5" y1="358.8" x2="821.5" y2="561.6" stroke="#d8d8d8" stroke-width="1"/>
<line x1="559.9" y1="399.1" x2="886.6" y2="399.1" stroke="#d8d8d8" stroke-width="1"/>
<line x1="559.9" y1="439.9" x2="886.6" y2="439.9" stroke="#d8d8d8" stroke-width="1"/>
<line x1="690.6" y1="358.8" x2="690.6" y2="361" stroke="#3a3a3a" stroke-width="1.3"/>
<line x1="690.6" y1="561.6" x2="690.6" y2="564.2" stroke="#3a3a3a" stroke-width="1.3"/>
<line x1="821.5" y1="358.8" x2="821.5" y2="361" stroke="#3a3a3a" stroke-width="1.3"/>
<line x1="821.5" y1="561.6" x2="821.5" y2="564.2" stroke="#3a3a3a" stroke-width="1.3"/>
<line x1="556.9" y1="399.1" x2="561.5" y2="399.1" stroke="#3a3a3a" stroke-width="1.3"/>
<line x1="883.4" y1="399.1" x2="886.6" y2="399.1" stroke="#3a3a3a" stroke-width="1.3"/>
<line x1="556.9" y1="439.9" x2="561.5" y2="439.9" stroke="#3a3a3a" stroke-width="1.3"/>
<line x1="883.4" y1="439.9" x2="886.6" y2="439.9" stroke="#3a3a3a" stroke-width="1.3"/>
<line x1="724.6" y1="358.8" x2="724.6" y2="561.6" stroke="#ff50ff" stroke-width="2"/>
<line x1="559.9" y1="482.1" x2="886.6" y2="482.1" stroke="#ff10ff" stroke-width="2.2"/>
<line x1="556.8" y1="561.6" x2="887.3" y2="561.6" stroke="#4c4c4c" stroke-width="1.7"/>
<line x1="886.7" y1="358.8" x2="886.7" y2="564" stroke="#303030" stroke-width="1.4"/>
<text font-size="10.5" font-weight="bold" textLength="23.5" lengthAdjust="spacingAndGlyphs" transform="translate(728.3 369.6) scale(1 1.03)" stroke="#fff" stroke-opacity=".8" stroke-width="1.6" paint-order="stroke" stroke-linejoin="round">2575</text>
<text font-size="10.5" font-weight="bold" text-anchor="end" textLength="23.2" lengthAdjust="spacingAndGlyphs" transform="translate(881.1 478.4) scale(1 1.03)" stroke="#fff" stroke-opacity=".8" stroke-width="1.6" paint-order="stroke" stroke-linejoin="round">1955</text>
<text font-size="21" text-anchor="middle" textLength="138.3" lengthAdjust="spacingAndGlyphs" transform="translate(723.1 345.3) scale(1 1.03)" stroke="#000" stroke-width="0.4">10 cells spiked</text>
<text font-size="24.7" text-anchor="middle" textLength="147.9" lengthAdjust="spacingAndGlyphs" transform="translate(501.6 462.25) rotate(-90) scale(1 1.03)" stroke="#000" stroke-width="0.4">AR-V7 (FAM)</text>
<text font-size="13.8" font-weight="bold" text-anchor="end" textLength="31.3" lengthAdjust="spacingAndGlyphs" transform="translate(550.5 404.6) scale(1 1.03)" stroke="#000" stroke-width="0.28">4000</text>
<text font-size="13.8" font-weight="bold" text-anchor="end" textLength="31.3" lengthAdjust="spacingAndGlyphs" transform="translate(550.5 487.1) scale(1 1.03)" stroke="#000" stroke-width="0.28">2000</text>
<text font-size="13.8" font-weight="bold" text-anchor="middle" textLength="31.4" lengthAdjust="spacingAndGlyphs" transform="translate(693 582.7) scale(1 1.03)" stroke="#000" stroke-width="0.28">2000</text>
<text font-size="13.8" font-weight="bold" text-anchor="middle" textLength="31.4" lengthAdjust="spacingAndGlyphs" transform="translate(824.4 582.7) scale(1 1.03)" stroke="#000" stroke-width="0.28">4000</text>
<text font-size="24.7" text-anchor="middle" textLength="167.6" lengthAdjust="spacingAndGlyphs" transform="translate(719.5 613.7) scale(1 1.03)" stroke="#000" stroke-width="0.4">Total AR (HEX)</text>
<ellipse cx="669.5" cy="419.5" rx="25.8" ry="53.6" fill="none" stroke="#000" stroke-width="2.2"/>
<ellipse cx="834.8" cy="515" rx="49.4" ry="13.9" fill="none" stroke="#000" stroke-width="2.2"/>
<text font-size="21.5" transform="translate(615.9 385.1) scale(1 1.03)" stroke="#000" stroke-width="0.4">26</text>
<text font-size="21.5" transform="translate(857.4 549.8) scale(1 1.03)" stroke="#000" stroke-width="0.4">72</text>
<g transform="translate(674 511.6) rotate(-22)">
<rect x="0.58" y="5.88" width="1.1" height="1.1" fill="#909090"/>
<rect x="6.55" y="4.64" width="1.3" height="1.3" fill="#909090"/>
<rect x="12.66" y="-4.16" width="0.9" height="0.9" fill="#7a7a7a"/>
<rect x="-14.05" y="-1.32" width="0.9" height="0.9" fill="#858585"/>
<rect x="-1.79" y="7.08" width="1.3" height="1.3" fill="#7a7a7a"/>
<rect x="4.8" y="-7.51" width="0.9" height="0.9" fill="#858585"/>
<rect x="-5.79" y="6.31" width="0.9" height="0.9" fill="#6f6f6f"/>
<rect x="7" y="-6.3" width="1.3" height="1.3" fill="#909090"/>
<rect x="-0.36" y="6.23" width="0.9" height="0.9" fill="#6f6f6f"/>
<rect x="13.76" y="-3.03" width="0.9" height="0.9" fill="#6f6f6f"/>
<rect x="11.42" y="-4.54" width="1.3" height="1.3" fill="#6f6f6f"/>
<rect x="4.15" y="5.99" width="1.1" height="1.1" fill="#6f6f6f"/>
<rect x="-13.15" y="1.55" width="0.9" height="0.9" fill="#6f6f6f"/>
<rect x="11.59" y="2.77" width="1.3" height="1.3" fill="#6f6f6f"/>
<rect x="-14.17" y="-1.97" width="0.9" height="0.9" fill="#6f6f6f"/>
<rect x="12.75" y="-0.56" width="0.9" height="0.9" fill="#909090"/>
<rect x="-9.78" y="-5.79" width="1.1" height="1.1" fill="#858585"/>
<rect x="-13.81" y="2.27" width="1.1" height="1.1" fill="#858585"/>
<rect x="9.75" y="3.24" width="1.1" height="1.1" fill="#858585"/>
<rect x="0.93" y="-7.66" width="0.9" height="0.9" fill="#858585"/>
<rect x="-6.86" y="5.29" width="0.9" height="0.9" fill="#909090"/>
<rect x="13.57" y="1.31" width="1.3" height="1.3" fill="#6f6f6f"/>
<rect x="-6.71" y="-6.62" width="1.1" height="1.1" fill="#6f6f6f"/>
<rect x="-6.34" y="5.23" width="1.3" height="1.3" fill="#909090"/>
<rect x="-6.01" y="-6.36" width="1.1" height="1.1" fill="#858585"/>
<rect x="-4.04" y="5.9" width="1.1" height="1.1" fill="#858585"/>
<rect x="-12.75" y="-3.49" width="0.9" height="0.9" fill="#909090"/>
<rect x="-10.63" y="5" width="1.3" height="1.3" fill="#6f6f6f"/>
<rect x="12.36" y="4.03" width="0.9" height="0.9" fill="#909090"/>
<rect x="9.02" y="3.54" width="1.3" height="1.3" fill="#858585"/>
<rect x="-6.45" y="-6.5" width="1.3" height="1.3" fill="#7a7a7a"/>
<rect x="-13.79" y="-0.06" width="0.9" height="0.9" fill="#7a7a7a"/>
<rect x="6.21" y="-6.46" width="1.3" height="1.3" fill="#909090"/>
<rect x="13.48" y="-1.1" width="1.1" height="1.1" fill="#858585"/>
<rect x="-11.31" y="2.84" width="1.1" height="1.1" fill="#909090"/>
<rect x="-0.41" y="7.12" width="1.1" height="1.1" fill="#858585"/>
<rect x="4.4" y="5.43" width="0.9" height="0.9" fill="#6f6f6f"/>
<rect x="-15.33" y="-1.75" width="1.1" height="1.1" fill="#909090"/>
<rect x="7.38" y="4.31" width="1.3" height="1.3" fill="#6f6f6f"/>
<rect x="10.11" y="4.26" width="1.1" height="1.1" fill="#7a7a7a"/>
<rect x="-11.14" y="3.97" width="1.1" height="1.1" fill="#858585"/>
<rect x="-4.57" y="6.18" width="1.1" height="1.1" fill="#6f6f6f"/>
<rect x="-14.94" y="-1.83" width="1.1" height="1.1" fill="#6f6f6f"/>
<rect x="13.2" y="-4.17" width="1.1" height="1.1" fill="#7a7a7a"/>
<rect x="13.69" y="-2.29" width="1.1" height="1.1" fill="#7a7a7a"/>
<rect x="9.81" y="-4.5" width="1.3" height="1.3" fill="#6f6f6f"/>
<rect x="8.81" y="-6.65" width="1.3" height="1.3" fill="#909090"/>
<rect x="-14.08" y="0.75" width="0.9" height="0.9" fill="#909090"/>
<rect x="3.49" y="-6.78" width="0.9" height="0.9" fill="#858585"/>
<rect x="-10.87" y="-4.82" width="1.1" height="1.1" fill="#909090"/>
<rect x="9.84" y="-5.41" width="0.9" height="0.9" fill="#858585"/>
<rect x="-7.1" y="-6.65" width="1.3" height="1.3" fill="#909090"/>
<rect x="-12.48" y="1.83" width="1.1" height="1.1" fill="#7a7a7a"/>
<rect x="-12.88" y="-2.95" width="0.9" height="0.9" fill="#858585"/>
<rect x="-10.27" y="5.14" width="1.1" height="1.1" fill="#7a7a7a"/>
<rect x="7.28" y="-7.1" width="1.3" height="1.3" fill="#7a7a7a"/>
<rect x="-13.23" y="1.34" width="1.1" height="1.1" fill="#6f6f6f"/>
<rect x="0.99" y="6.56" width="0.9" height="0.9" fill="#909090"/>
<rect x="12.99" y="2.94" width="1.3" height="1.3" fill="#6f6f6f"/>
<rect x="13.43" y="-0.47" width="0.9" height="0.9" fill="#909090"/>
<rect x="-11.26" y="-6.15" width="1.1" height="1.1" fill="#6f6f6f"/>
<rect x="-13.86" y="2.97" width="1.1" height="1.1" fill="#858585"/>
<rect x="8.7" y="-5.22" width="1.1" height="1.1" fill="#858585"/>
<rect x="-14.28" y="-0.4" width="1.3" height="1.3" fill="#7a7a7a"/>
<rect x="6.49" y="5.72" width="1.3" height="1.3" fill="#7a7a7a"/>
<rect x="10.87" y="4.17" width="1.3" height="1.3" fill="#909090"/>
<rect x="11.32" y="2.51" width="1.1" height="1.1" fill="#6f6f6f"/>
<rect x="1.06" y="5.87" width="1.3" height="1.3" fill="#7a7a7a"/>
<rect x="13.9" y="1.86" width="1.3" height="1.3" fill="#909090"/>
<rect x="-5.88" y="6.52" width="1.3" height="1.3" fill="#909090"/>
<ellipse cx="0" cy="0" rx="14" ry="7" fill="url(#cg)"/>
</g>
<rect x="690.5" y="506.2" width="1.4" height="1.4" fill="#777"/>
<rect x="689.3" y="505.1" width="1" height="1" fill="#999"/>
<rect x="659.05" y="522.55" width="1.7" height="1.7" fill="#666"/>
<rect x="666.15" y="522.45" width="1.5" height="1.5" fill="#666"/>
<rect x="656.65" y="520.95" width="1.3" height="1.3" fill="#777"/>
<rect x="651.2" y="522.2" width="1" height="1" fill="#bbb"/>
<rect x="646.6" y="528" width="1.6" height="1.6" fill="#666"/>
<rect x="663" y="523.7" width="1" height="1" fill="#999"/>
<rect x="659.9" y="517.7" width="1.2" height="1.2" fill="#999"/>
<rect x="660.8" y="382.88" width="1.9" height="1.9" fill="#1382ea"/>
<rect x="655.72" y="387.07" width="1.9" height="1.9" fill="#1382ea"/>
<rect x="680.86" y="407.64" width="1.9" height="1.9" fill="#1382ea"/>
<rect x="677.74" y="419.13" width="1.78" height="1.78" fill="#1382ea"/>
<rect x="669.38" y="420.67" width="2.5" height="2.5" fill="#1382ea"/>
<rect x="672.44" y="423.85" width="2.74" height="2.74" fill="#1382ea"/>
<rect x="672.03" y="424.84" width="1.78" height="1.78" fill="#1382ea"/>
<rect x="676.15" y="431.63" width="1.66" height="1.66" fill="#1382ea"/>
<rect x="668.8" y="434.05" width="1.9" height="1.9" fill="#1382ea"/>
<rect x="674.31" y="433.98" width="1.54" height="1.54" fill="#1382ea"/>
<rect x="677.95" y="435.71" width="2.38" height="2.38" fill="#1382ea"/>
<rect x="669.07" y="436.86" width="2.62" height="2.62" fill="#1382ea"/>
<rect x="673.1" y="435.56" width="1.42" height="1.42" fill="#1382ea"/>
<rect x="676.87" y="438.31" width="2.26" height="2.26" fill="#1382ea"/>
<rect x="673.55" y="440.21" width="1.78" height="1.78" fill="#1382ea"/>
<rect x="671.77" y="441.85" width="1.54" height="1.54" fill="#1382ea"/>
<rect x="669.44" y="443.08" width="2.38" height="2.38" fill="#1382ea"/>
<rect x="665.05" y="443.89" width="1.78" height="1.78" fill="#1382ea"/>
<rect x="672.37" y="444.86" width="2.38" height="2.38" fill="#1382ea"/>
<rect x="676.67" y="445.86" width="1.9" height="1.9" fill="#1382ea"/>
<rect x="671.59" y="455" width="1.9" height="1.9" fill="#1382ea"/>
<rect x="676.79" y="455.76" width="1.66" height="1.66" fill="#1382ea"/>
<rect x="668.92" y="436.07" width="1.66" height="1.66" fill="#1382ea"/>
<rect x="671.19" y="442.8" width="1.42" height="1.42" fill="#1382ea"/>
<rect x="876.63" y="512.84" width="2.7" height="2.7" fill="#04d632"/>
<rect x="798.94" y="515.06" width="1.74" height="1.74" fill="#04d632"/>
<rect x="800.28" y="516.67" width="1.74" height="1.74" fill="#04d632"/>
<rect x="802.9" y="510.85" width="1.86" height="1.86" fill="#04d632"/>
<rect x="804.36" y="512.71" width="1.62" height="1.62" fill="#04d632"/>
<rect x="805.06" y="515.42" width="2.1" height="2.1" fill="#04d632"/>
<rect x="808.32" y="512.92" width="1.74" height="1.74" fill="#04d632"/>
<rect x="811.82" y="507.84" width="1.98" height="1.98" fill="#04d632"/>
<rect x="841.72" y="517.89" width="1.98" height="1.98" fill="#04d632"/>
<rect x="856.81" y="517.43" width="2.1" height="2.1" fill="#04d632"/>
<rect x="841.23" y="512.44" width="1.62" height="1.62" fill="#04d632"/>
<rect x="845.75" y="513.6" width="1.98" height="1.98" fill="#04d632"/>
<rect x="847.55" y="512.32" width="1.86" height="1.86" fill="#04d632"/>
<rect x="849.89" y="511.04" width="1.74" height="1.74" fill="#04d632"/>
<rect x="853.39" y="511.59" width="1.98" height="1.98" fill="#04d632"/>
<rect x="854.4" y="513.54" width="2.1" height="2.1" fill="#04d632"/>
<rect x="858.39" y="512.71" width="1.62" height="1.62" fill="#04d632"/>
<rect x="836.91" y="511.74" width="2.22" height="2.22" fill="#04d632"/>
<rect x="838.04" y="513.54" width="2.1" height="2.1" fill="#04d632"/>
<rect x="836.02" y="511.25" width="1.86" height="1.86" fill="#04d632"/>
<rect x="831.55" y="514.42" width="2.22" height="2.22" fill="#04d632"/>
<rect x="833.68" y="514.14" width="1.98" height="1.98" fill="#04d632"/>
<rect x="831.99" y="511.25" width="1.86" height="1.86" fill="#04d632"/>
<rect x="815.15" y="513.36" width="1.74" height="1.74" fill="#04d632"/>
<rect x="822.85" y="513.91" width="1.74" height="1.74" fill="#04d632"/>
<rect x="822.22" y="514.98" width="1.74" height="1.74" fill="#04d632"/>
<rect x="824.56" y="514.45" width="2.22" height="2.22" fill="#04d632"/>
<rect x="818.79" y="510.54" width="2.46" height="2.46" fill="#04d632"/>
<rect x="821.67" y="509.9" width="2.22" height="2.22" fill="#04d632"/>
<rect x="830.61" y="514.8" width="1.98" height="1.98" fill="#04d632"/>
<rect x="822.7" y="513.21" width="1.74" height="1.74" fill="#04d632"/>
<rect x="820.2" y="513.87" width="2.22" height="2.22" fill="#04d632"/>
<rect x="826.13" y="513.1" width="2.46" height="2.46" fill="#04d632"/>
<rect x="817.32" y="512.41" width="1.98" height="1.98" fill="#04d632"/>
<rect x="820.84" y="513.95" width="1.74" height="1.74" fill="#04d632"/>
<rect x="832.77" y="514.45" width="2.46" height="2.46" fill="#04d632"/>
<rect x="818.52" y="509.46" width="2.22" height="2.22" fill="#04d632"/>
<rect x="816.36" y="513.38" width="2.46" height="2.46" fill="#04d632"/>
<rect x="815.01" y="510.89" width="1.98" height="1.98" fill="#04d632"/>
<rect x="811.7" y="512.26" width="2.22" height="2.22" fill="#04d632"/>
<rect x="811.94" y="508.79" width="1.74" height="1.74" fill="#04d632"/>
<rect x="820.92" y="512.87" width="1.74" height="1.74" fill="#04d632"/>
<rect x="814.1" y="510.73" width="2.22" height="2.22" fill="#04d632"/>
<rect x="826.23" y="512.9" width="1.98" height="1.98" fill="#04d632"/>
<rect x="816.66" y="513.23" width="1.74" height="1.74" fill="#04d632"/>
<rect x="825.1" y="510.95" width="1.74" height="1.74" fill="#04d632"/>
<rect x="830.22" y="513.03" width="2.46" height="2.46" fill="#04d632"/>
<rect x="823.6" y="513.62" width="1.74" height="1.74" fill="#04d632"/>
<rect x="817.63" y="511.38" width="1.74" height="1.74" fill="#04d632"/>
<rect x="820.73" y="512.6" width="2.22" height="2.22" fill="#04d632"/>
<rect x="823.92" y="514.68" width="1.98" height="1.98" fill="#04d632"/>
<rect x="830.89" y="509.67" width="1.74" height="1.74" fill="#04d632"/>
<rect x="818.19" y="516.56" width="2.22" height="2.22" fill="#04d632"/>
<rect x="832.89" y="512.41" width="2.22" height="2.22" fill="#04d632"/>
<rect x="814.58" y="511.33" width="2.22" height="2.22" fill="#04d632"/>
<rect x="815.13" y="512.05" width="2.22" height="2.22" fill="#04d632"/>
<rect x="811.94" y="510.71" width="1.74" height="1.74" fill="#04d632"/>
<rect x="819.71" y="513.28" width="1.98" height="1.98" fill="#04d632"/>
<rect x="819.48" y="511.62" width="2.46" height="2.46" fill="#04d632"/>
<rect x="816.59" y="512.94" width="2.46" height="2.46" fill="#04d632"/>
<rect x="831.42" y="515.27" width="1.98" height="1.98" fill="#04d632"/>
<rect x="819.58" y="514.43" width="2.22" height="2.22" fill="#04d632"/>
<rect x="821.08" y="515.03" width="2.46" height="2.46" fill="#04d632"/>
<rect x="824.72" y="513.23" width="2.46" height="2.46" fill="#04d632"/>
<rect x="814.65" y="506.91" width="2.46" height="2.46" fill="#04d632"/>
<rect x="820.82" y="513.68" width="2.22" height="2.22" fill="#04d632"/>
<rect x="815.96" y="511.76" width="2.22" height="2.22" fill="#04d632"/>
<rect x="823.76" y="512.36" width="1.74" height="1.74" fill="#04d632"/>
<rect x="831.62" y="514.99" width="2.46" height="2.46" fill="#04d632"/>
<rect x="811.58" y="514.58" width="2.46" height="2.46" fill="#04d632"/>
<rect x="821.56" y="513.58" width="1.98" height="1.98" fill="#04d632"/>
<line x1="309.3" y1="693.65" x2="309.3" y2="925.3" stroke="#000" stroke-width="2.7"/>
<line x1="309.3" y1="931.9" x2="309.3" y2="938.2" stroke="#000" stroke-width="2.7"/>
<line x1="309.3" y1="944.4" x2="309.3" y2="950.2" stroke="#000" stroke-width="2.7"/>
<line x1="309.3" y1="956.4" x2="309.3" y2="963.5" stroke="#000" stroke-width="2.7"/>
<line x1="625.2" y1="693.65" x2="625.2" y2="925.3" stroke="#000" stroke-width="2.7"/>
<line x1="625.2" y1="931.9" x2="625.2" y2="938.2" stroke="#000" stroke-width="2.7"/>
<line x1="625.2" y1="944.4" x2="625.2" y2="950.2" stroke="#000" stroke-width="2.7"/>
<line x1="625.2" y1="956.4" x2="625.2" y2="963.5" stroke="#000" stroke-width="2.7"/>
<line x1="302" y1="963.5" x2="631.8" y2="963.5" stroke="#000" stroke-width="2.7"/>
<line x1="302.1" y1="695" x2="309.3" y2="695" stroke="#000" stroke-width="2.7"/>
<line x1="304.3" y1="718.3" x2="309.3" y2="718.3" stroke="#000" stroke-width="2.7"/>
<line x1="302.1" y1="784.5" x2="309.3" y2="784.5" stroke="#000" stroke-width="2.7"/>
<line x1="304.3" y1="807.8" x2="309.3" y2="807.8" stroke="#000" stroke-width="2.7"/>
<line x1="302.1" y1="874" x2="309.3" y2="874" stroke="#000" stroke-width="2.7"/>
<line x1="304.3" y1="897.3" x2="309.3" y2="897.3" stroke="#000" stroke-width="2.7"/>
<line x1="625.2" y1="695" x2="631.8" y2="695" stroke="#000" stroke-width="2.7"/>
<line x1="625.2" y1="712.6" x2="629.9" y2="712.6" stroke="#000" stroke-width="2.7"/>
<line x1="625.2" y1="762.12" x2="631.8" y2="762.12" stroke="#000" stroke-width="2.7"/>
<line x1="625.2" y1="779.73" x2="629.9" y2="779.73" stroke="#000" stroke-width="2.7"/>
<line x1="625.2" y1="829.25" x2="631.8" y2="829.25" stroke="#000" stroke-width="2.7"/>
<line x1="625.2" y1="846.85" x2="629.9" y2="846.85" stroke="#000" stroke-width="2.7"/>
<line x1="625.2" y1="896.38" x2="631.8" y2="896.38" stroke="#000" stroke-width="2.7"/>
<line x1="625.2" y1="913.98" x2="629.9" y2="913.98" stroke="#000" stroke-width="2.7"/>
<line x1="348.6" y1="963.5" x2="348.6" y2="970.2" stroke="#000" stroke-width="2.7"/>
<line x1="427.6" y1="963.5" x2="427.6" y2="970.2" stroke="#000" stroke-width="2.7"/>
<line x1="506.6" y1="963.5" x2="506.6" y2="970.2" stroke="#000" stroke-width="2.7"/>
<line x1="585.6" y1="963.5" x2="585.6" y2="970.2" stroke="#000" stroke-width="2.7"/>
<text font-size="15.4" font-weight="bold" text-anchor="end" transform="translate(297.4 700.4) scale(1 1.03)" stroke="#000" stroke-width="0.28">100</text>
<text font-size="15.4" font-weight="bold" text-anchor="end" transform="translate(297.4 789.9) scale(1 1.03)" stroke="#000" stroke-width="0.28">10</text>
<text font-size="15.4" font-weight="bold" text-anchor="end" transform="translate(297.4 879.4) scale(1 1.03)" stroke="#000" stroke-width="0.28">1</text>
<text font-size="15.4" font-weight="bold" text-anchor="end" transform="translate(297.9 968.5) scale(1 1.03)" stroke="#000" stroke-width="0.28">0</text>
<text font-size="15.4" font-weight="bold" transform="translate(637.6 700.4) scale(1 1.03)" stroke="#000" stroke-width="0.28">1000</text>
<text font-size="15.4" font-weight="bold" transform="translate(637.6 767.52) scale(1 1.03)" stroke="#000" stroke-width="0.28">100</text>
<text font-size="15.4" font-weight="bold" transform="translate(637.6 834.65) scale(1 1.03)" stroke="#000" stroke-width="0.28">10</text>
<text font-size="15.4" font-weight="bold" transform="translate(637.6 901.77) scale(1 1.03)" stroke="#000" stroke-width="0.28">1</text>
<text font-size="15.4" font-weight="bold" transform="translate(638.2 968.5) scale(1 1.03)" stroke="#000" stroke-width="0.28">0</text>
<text font-size="14.3" font-weight="bold" text-anchor="end" textLength="43.2" lengthAdjust="spacingAndGlyphs" transform="translate(302.3 992.3) scale(1 1.03)" stroke="#000" stroke-width="0.28">22Rv1</text>
<text font-size="14.3" font-weight="bold" text-anchor="end" textLength="42.7" lengthAdjust="spacingAndGlyphs" transform="translate(302.3 1014.3) scale(1 1.03)" stroke="#000" stroke-width="0.28">PBMC</text>
<text font-size="14.8" font-weight="bold" text-anchor="middle" transform="translate(348.6 992.3) scale(1 1.03)" stroke="#000" stroke-width="0.28">0</text>
<text font-size="14.5" font-weight="bold" text-anchor="middle" textLength="33.8" lengthAdjust="spacingAndGlyphs" transform="translate(348.4 1014.2) scale(1 1.03)" stroke="#000" stroke-width="0.28">4000</text>
<text font-size="14.8" font-weight="bold" text-anchor="middle" transform="translate(427.6 992.3) scale(1 1.03)" stroke="#000" stroke-width="0.28">1</text>
<text font-size="14.5" font-weight="bold" text-anchor="middle" textLength="33.8" lengthAdjust="spacingAndGlyphs" transform="translate(429.1 1014.2) scale(1 1.03)" stroke="#000" stroke-width="0.28">4000</text>
<text font-size="14.8" font-weight="bold" text-anchor="middle" transform="translate(506.6 992.3) scale(1 1.03)" stroke="#000" stroke-width="0.28">5</text>
<text font-size="14.5" font-weight="bold" text-anchor="middle" textLength="33.8" lengthAdjust="spacingAndGlyphs" transform="translate(508.2 1014.2) scale(1 1.03)" stroke="#000" stroke-width="0.28">4000</text>
<text font-size="14.8" font-weight="bold" text-anchor="middle" transform="translate(585.6 992.3) scale(1 1.03)" stroke="#000" stroke-width="0.28">10</text>
<text font-size="14.5" font-weight="bold" text-anchor="middle" textLength="33.8" lengthAdjust="spacingAndGlyphs" transform="translate(586.2 1014.2) scale(1 1.03)" stroke="#000" stroke-width="0.28">4000</text>
<text font-size="14.3" font-weight="bold" textLength="32.4" lengthAdjust="spacingAndGlyphs" transform="translate(632.4 992.3) scale(1 1.03)" stroke="#000" stroke-width="0.28">cells</text>
<text font-size="14.3" font-weight="bold" textLength="32.4" lengthAdjust="spacingAndGlyphs" transform="translate(632.4 1014.3) scale(1 1.03)" stroke="#000" stroke-width="0.28">cells</text>
<text font-size="30.2" text-anchor="middle" textLength="178" lengthAdjust="spacingAndGlyphs" transform="translate(256.1 828.85) rotate(-90) scale(1 1.03)" stroke="#000" stroke-width="0.4">AR-V7 copies</text>
<text font-size="30.2" text-anchor="middle" textLength="202" lengthAdjust="spacingAndGlyphs" transform="translate(681.6 827.6) rotate(90) scale(1 1.03)" stroke="#000" stroke-width="0.4">Total AR copies</text>
<circle cx="331.3" cy="698.5" r="3.8" fill="#0000ff"/>
<rect x="327.5" y="725.2" width="7.7" height="7.7" fill="#00ff00"/>
<text font-size="24.5" textLength="72.3" lengthAdjust="spacingAndGlyphs" transform="translate(351.3 706.8) scale(1 1.03)" stroke="#000" stroke-width="0.4">AR-V7</text>
<text font-size="24.5" textLength="90.6" lengthAdjust="spacingAndGlyphs" transform="translate(352 736.7) scale(1 1.03)" stroke="#000" stroke-width="0.4">Total AR</text>
<g stroke="#0000ff" stroke-width="2">
<line x1="338.1" y1="882.7" x2="338.1" y2="925.3"/>
<line x1="332.9" y1="882.7" x2="343.3" y2="882.7"/>
<line x1="338.1" y1="931.9" x2="338.1" y2="938.2"/>
<line x1="338.1" y1="944.4" x2="338.1" y2="950.2"/>
<line x1="338.1" y1="956.4" x2="338.1" y2="963.5"/>
</g>
<g stroke="#0000ff" stroke-width="2" fill="#0000ff">
<line x1="329.1" y1="963.5" x2="347.1" y2="963.5"/>
<circle cx="338.1" cy="963.5" r="3.7" stroke="none"/>
</g>
<g stroke="#00ff00" stroke-width="2" fill="#00ff00">
<line x1="359.1" y1="861" x2="359.1" y2="911.3"/>
<line x1="353.9" y1="861" x2="364.3" y2="861"/>
<line x1="353.9" y1="911.3" x2="364.3" y2="911.3"/>
<line x1="350.1" y1="882.7" x2="368.1" y2="882.7"/>
<rect x="355.4" y="879" width="7.4" height="7.4" stroke="none"/>
</g>
<g stroke="#0000ff" stroke-width="2" fill="#0000ff">
<line x1="417.4" y1="811.6" x2="417.4" y2="860.9"/>
<line x1="412.2" y1="811.6" x2="422.6" y2="811.6"/>
<line x1="412.2" y1="860.9" x2="422.6" y2="860.9"/>
<line x1="408.4" y1="833.9" x2="426.4" y2="833.9"/>
<circle cx="417.4" cy="833.9" r="3.7" stroke="none"/>
</g>
<g stroke="#00ff00" stroke-width="2" fill="#00ff00">
<line x1="438.7" y1="820.8" x2="438.7" y2="840.4"/>
<line x1="433.5" y1="820.8" x2="443.9" y2="820.8"/>
<line x1="433.5" y1="840.4" x2="443.9" y2="840.4"/>
<line x1="429.7" y1="830.1" x2="447.7" y2="830.1"/>
<rect x="435" y="826.4" width="7.4" height="7.4" stroke="none"/>
</g>
<g stroke="#0000ff" stroke-width="2" fill="#0000ff">
<line x1="496" y1="770.6" x2="496" y2="797.4"/>
<line x1="490.8" y1="770.6" x2="501.2" y2="770.6"/>
<line x1="490.8" y1="797.4" x2="501.2" y2="797.4"/>
<line x1="487" y1="783.7" x2="505" y2="783.7"/>
<circle cx="496" cy="783.7" r="3.7" stroke="none"/>
</g>
<g stroke="#00ff00" stroke-width="2" fill="#00ff00">
<line x1="517.5" y1="784.9" x2="517.5" y2="795"/>
<line x1="512.3" y1="784.9" x2="522.7" y2="784.9"/>
<line x1="512.3" y1="795" x2="522.7" y2="795"/>
<line x1="508.5" y1="789.8" x2="526.5" y2="789.8"/>
<rect x="513.8" y="786.1" width="7.4" height="7.4" stroke="none"/>
</g>
<g stroke="#0000ff" stroke-width="2" fill="#0000ff">
<line x1="575.3" y1="723" x2="575.3" y2="735.2"/>
<line x1="570.1" y1="723" x2="580.5" y2="723"/>
<line x1="570.1" y1="735.2" x2="580.5" y2="735.2"/>
<line x1="566.3" y1="728.8" x2="584.3" y2="728.8"/>
<circle cx="575.3" cy="728.8" r="3.7" stroke="none"/>
</g>
<g stroke="#00ff00" stroke-width="2" fill="#00ff00">
<line x1="596.5" y1="753.6" x2="596.5" y2="758.7"/>
<line x1="591.3" y1="753.6" x2="601.7" y2="753.6"/>
<line x1="591.3" y1="758.7" x2="601.7" y2="758.7"/>
<line x1="587.5" y1="756.1" x2="605.5" y2="756.1"/>
<rect x="592.8" y="752.4" width="7.4" height="7.4" stroke="none"/>
</g>
</g>
</svg></body></html>
